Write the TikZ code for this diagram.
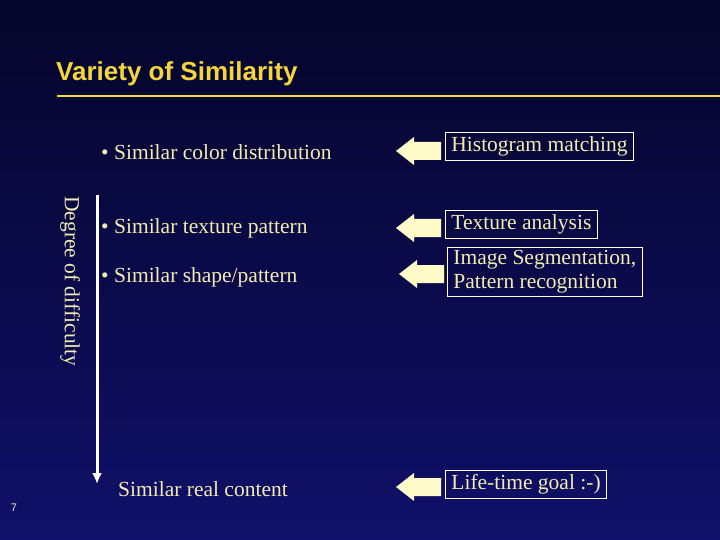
\documentclass[tikz,border=0pt]{standalone}
\usepackage{fontspec}
\setmainfont{Liberation Serif}
\setsansfont{Liberation Sans}
\usetikzlibrary{arrows.meta}
\definecolor{bgtop}{HTML}{05052A}
\definecolor{bgbot}{HTML}{10106A}
\definecolor{ttl}{HTML}{F5D63A}
\definecolor{cream}{HTML}{F3EBB0}
\definecolor{arr}{HTML}{FFFBC8}
\tikzset{
 bul/.style={anchor=west,text=cream,font=\fontsize{21.5}{24}\selectfont,inner sep=0},
 box/.style={draw=white,line width=0.8pt,text=cream,font=\fontsize{21.5}{24}\selectfont,anchor=north west,align=left,inner xsep=6pt,inner ysep=4pt},
}
\newcommand{\blockarr}[2]{\fill[arr] (#1+45,#2-9) -- (#1+18,#2-9) -- (#1+18,#2-14) -- (#1,#2) -- (#1+18,#2+14) -- (#1+18,#2+9) -- (#1+45,#2+9) -- cycle;}
\begin{document}
\begin{tikzpicture}[x=1pt,y=-1pt]
\shade[top color=bgtop,bottom color=bgbot] (0,0) rectangle (720,540);
\useasboundingbox (0,0) rectangle (720,540);
\node[anchor=west,text=ttl,font=\sffamily\bfseries\fontsize{26}{29}\selectfont,inner sep=0] (title) at (56,74) {Variety of Similarity};
\draw[ttl,line width=2.5pt] (57,96) -- (720,96);
\node[bul] (b1) at (101,152) {• Similar color distribution};
\node[bul] (b2) at (101,228) {• Similar texture pattern};
\node[bul] (b3) at (101,277) {• Similar shape/pattern};
\node[bul] (b4) at (118,489) {Similar real content};
\node[box] (h1) at (445,132) {Histogram matching};
\node[box] (h2) at (445,210) {Texture analysis};
\node[box,inner ysep=3pt] (h3) at (447,247) {Image Segmentation,\\Pattern recognition};
\node[box] (h4) at (445,470) {Life-time goal :-)};
\blockarr{396}{151}
\blockarr{396}{228}
\blockarr{399}{274}
\blockarr{396}{487}
\coordinate (vt) at (97,195);
\coordinate (vb) at (97,484);
\draw[white,line width=3pt,-{Latex[length=11pt,width=10pt]}] (vt) -- (vb);
\node[rotate=-90,text=cream,font=\fontsize{21.5}{24}\selectfont,anchor=west,inner sep=0] (deg) at (70,196) {Degree of difficulty};
\node[text=cream,font=\sffamily\fontsize{11}{12}\selectfont,inner sep=0] (pg) at (14,508) {7};
\end{tikzpicture}
\end{document}
